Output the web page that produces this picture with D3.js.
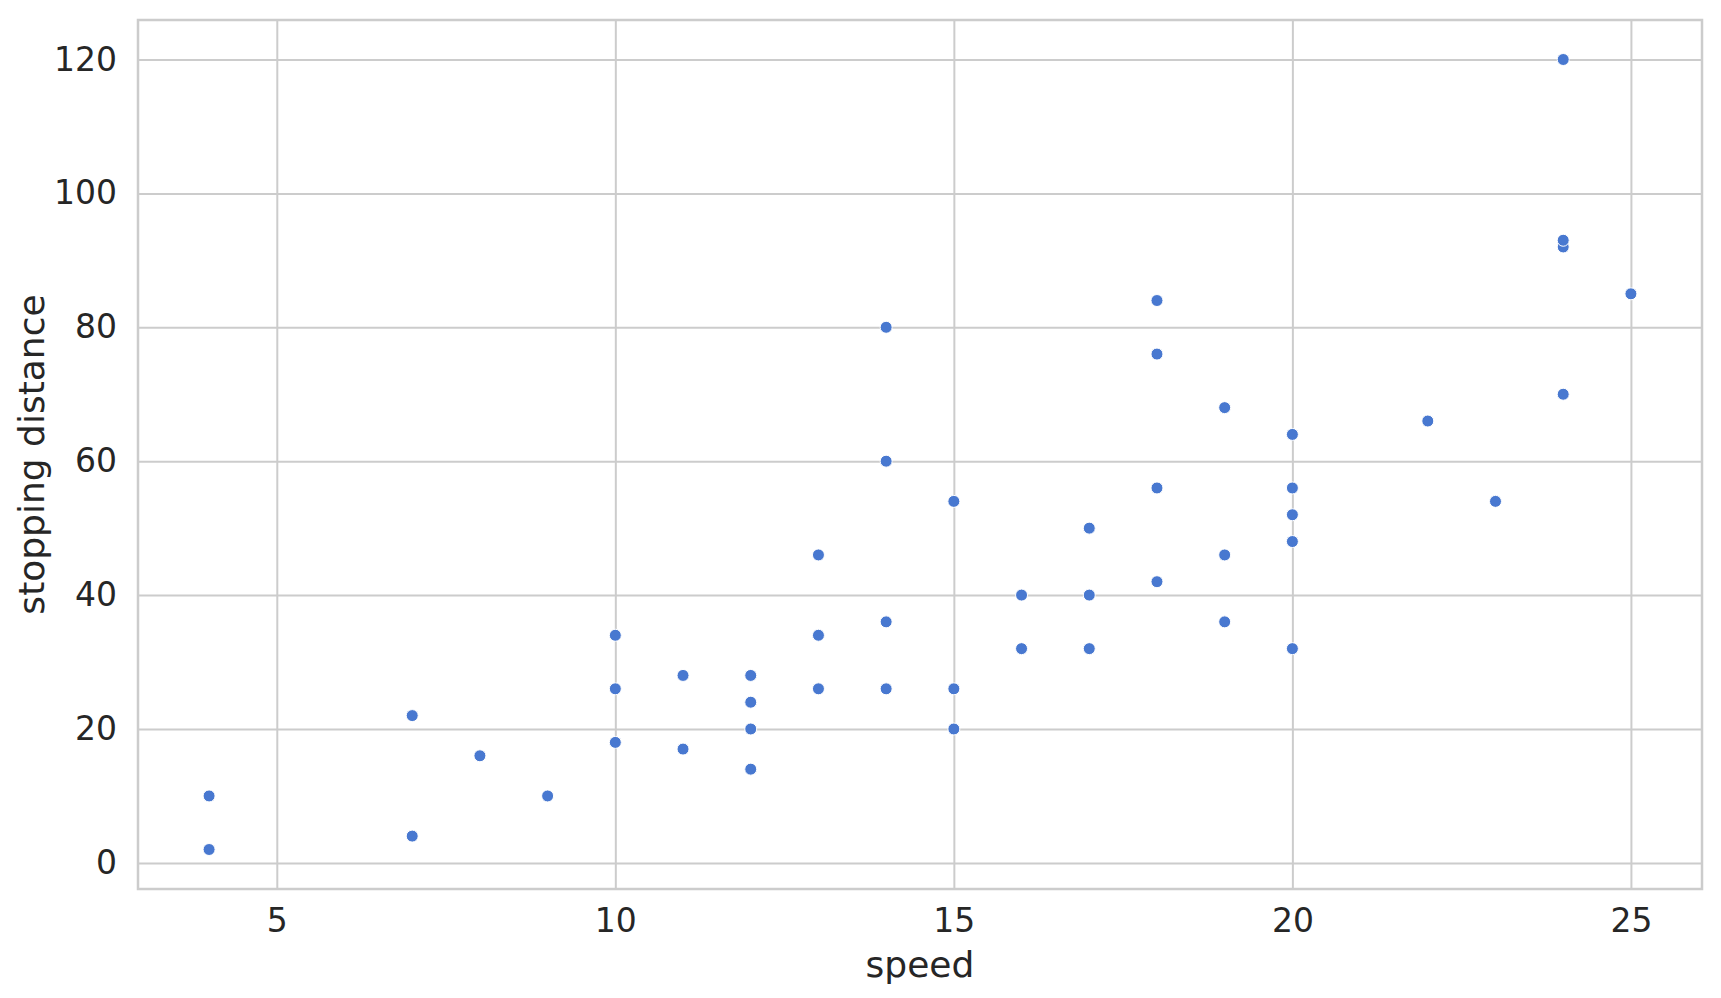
<!DOCTYPE html>
<html>
<head>
<meta charset="utf-8">
<script src="https://cdn.jsdelivr.net/npm/d3@7"></script>
<style>
  body { margin: 0; background: #fff; }
  text { font-family: "DejaVu Sans", sans-serif; fill: #262626; }
</style>
</head>
<body>
<div id="chart"></div>
<script>
// cars dataset: speed vs stopping distance
const speed = [4, 4, 7, 7, 8, 9, 10, 10, 10, 11, 11, 12, 12, 12, 12, 13, 13, 13, 13, 14,
  14, 14, 14, 15, 15, 15, 16, 16, 17, 17, 17, 18, 18, 18, 18, 19, 19, 19, 20, 20,
  20, 20, 20, 22, 23, 24, 24, 24, 24, 25];
const dist = [2, 10, 4, 22, 16, 10, 18, 26, 34, 17, 28, 14, 20, 24, 28, 26, 34, 34, 46, 26,
  36, 60, 80, 20, 26, 54, 32, 40, 32, 40, 50, 42, 56, 76, 84, 36, 46, 68, 32, 48,
  52, 56, 64, 66, 54, 70, 92, 93, 120, 85];
const xTicks = [5, 10, 15, 20, 25];
const yTicks = [0, 20, 40, 60, 80, 100, 120];

const W = 1721, H = 998;
const margin = { top: 20, right: 19, bottom: 109, left: 138 },
  width = W - margin.left - margin.right,
  height = H - margin.top - margin.bottom;

const svg = d3.select("#chart")
  .append("svg")
  .attr("width", W)
  .attr("height", H);

const g = svg.append("g")
  .attr("transform", `translate(${margin.left},${margin.top})`);

// matplotlib-style 5% margins
const xPad = (d3.max(speed) - d3.min(speed)) * 0.05;
const yPad = (d3.max(dist) - d3.min(dist)) * 0.05;
const x = d3.scaleLinear().domain([d3.min(speed) - xPad, d3.max(speed) + xPad]).range([0, width]);
const y = d3.scaleLinear().domain([d3.min(dist) - yPad, d3.max(dist) + yPad]).range([height, 0]);

// Grid + tick labels
const xAxis = g.append("g")
  .attr("transform", `translate(0,${height})`)
  .call(d3.axisBottom(x).tickValues(xTicks).tickSize(-height).tickPadding(20).tickFormat(d3.format("d")));

const yAxis = g.append("g")
  .call(d3.axisLeft(y).tickValues(yTicks).tickSize(-width).tickPadding(21).tickFormat(d3.format("d")));

[xAxis, yAxis].forEach(a => {
  a.select(".domain").remove();
  a.selectAll(".tick line").attr("stroke", "#cccccc").attr("stroke-width", 2);
  a.selectAll(".tick text")
    .attr("font-family", "DejaVu Sans, sans-serif")
    .attr("font-size", 33)
    .attr("fill", "#262626");
});

// Spines
g.append("rect")
  .attr("x", 0).attr("y", 0)
  .attr("width", width).attr("height", height)
  .attr("fill", "none")
  .attr("stroke", "#cccccc")
  .attr("stroke-width", 2.5);

// Points
g.selectAll(".dot")
  .data(speed.map((s, i) => ({ s, d: dist[i] })))
  .enter()
  .append("circle")
  .attr("class", "dot")
  .attr("cx", d => x(d.s))
  .attr("cy", d => y(d.d))
  .attr("r", 6)
  .attr("fill", "#4878d0")
  .attr("stroke", "#ffffff")
  .attr("stroke-width", 1);

// Axis labels
svg.append("text")
  .attr("x", margin.left + width / 2)
  .attr("y", 977)
  .attr("text-anchor", "middle")
  .attr("font-size", 36)
  .text("speed");

svg.append("text")
  .attr("transform", `translate(44,${margin.top + height / 2}) rotate(-90)`)
  .attr("text-anchor", "middle")
  .attr("font-size", 36)
  .text("stopping distance");
</script>
</body>
</html>
